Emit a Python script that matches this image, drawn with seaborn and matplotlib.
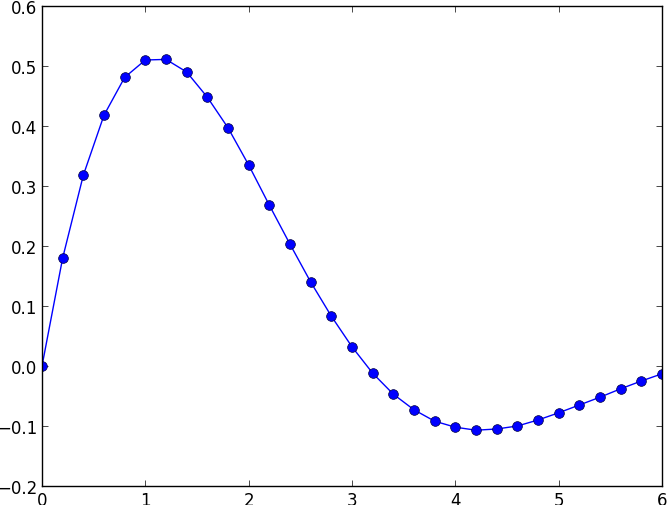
import matplotlib
matplotlib.use("Agg")
import matplotlib.pyplot as plt
import seaborn as sns
import pandas as pd

x_vals = [0.0, 0.2, 0.4, 0.6, 0.8, 1.0, 1.2, 1.4, 1.6, 1.8, 2.0,
          2.2, 2.4, 2.6, 2.8, 3.0, 3.2, 3.4, 3.6, 3.8, 4.0,
          4.2, 4.4, 4.6, 4.8, 5.0, 5.2, 5.4, 5.6, 5.8, 6.0]
y_vals = [0.0, 0.180, 0.318, 0.418, 0.481, 0.510, 0.511, 0.490, 0.448, 0.397, 0.335,
          0.268, 0.203, 0.140, 0.083, 0.032, -0.012, -0.047, -0.073, -0.092, -0.102,
          -0.107, -0.105, -0.100, -0.090, -0.078, -0.065, -0.052, -0.038, -0.025, -0.013]

data = pd.DataFrame({"x": x_vals, "y": y_vals})

sns.set_style("ticks")
plt.rcParams["font.family"] = ["DejaVu Sans"]

fig = plt.figure(figsize=(6.68, 5.06), dpi=100)
ax = fig.add_axes([42 / 668, 1 - 487 / 506, 620 / 668, 480 / 506])

sns.lineplot(data=data, x="x", y="y", ax=ax, color="blue", linewidth=1,
             marker="o", markersize=7, markeredgecolor="#000040",
             markeredgewidth=0.5, markerfacecolor="blue")

ax.set_xlim(0, 6)
ax.set_ylim(-0.2, 0.6)
ax.set_xticks([0, 1, 2, 3, 4, 5, 6])
ax.set_yticks([-0.2, -0.1, 0.0, 0.1, 0.2, 0.3, 0.4, 0.5, 0.6])
ax.set_xlabel("")
ax.set_ylabel("")
ax.tick_params(direction="in", top=True, right=True, length=4, width=0.5,
               labelsize=12, colors="black")
for s in ax.spines.values():
    s.set_linewidth(1)
    s.set_color("black")

fig.savefig("out.png", dpi=100)
